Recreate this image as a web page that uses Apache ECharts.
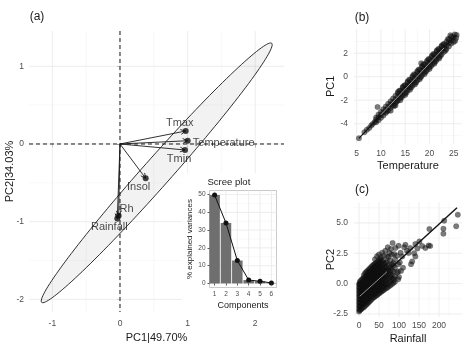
<!DOCTYPE html>
<html><head><meta charset="utf-8">
<script src="https://cdn.jsdelivr.net/npm/echarts@6/dist/echarts.min.js"></script>
<style>html,body{margin:0;padding:0;background:#fff}#c{width:474px;height:355px}</style>
</head><body><div id="c"></div>
<script>
// ---------- data ----------
const pcaVariables = ['Tmax', 'Temperature', 'Tmin', 'Insol', 'Rh', 'Rainfall'];
const pcaPC1 = [0.972, 1.001, 0.962, 0.380, -0.020, -0.040];
const pcaPC2 = [0.167, 0.042, -0.077, -0.442, -0.925, -0.960];
const ellipseCenter = [0.543, -0.371];
const ellipseMajorEnd = [2.244, 1.296];
const ellipseMinorEnd = [0.698, -0.490];
const biplotXTicks = [-1, 0, 1, 2];
const biplotYTicks = [-2, -1, 0, 1];

const screeComponents = [1, 2, 3, 4, 5, 6];
const screeVariance = [49.70, 34.03, 12.9, 1.9, 1.2, 0.27];
const screeYTicks = [0, 10, 20, 30, 40, 50];

const tempPC1Points = [
[5.46,-5.24],[6.6,-4.72],[7.1,-4.52],[7.6,-4.36],[8.0,-4.16],[8.3,-4.02],[8.7,-3.86],[9.3,-2.58],
[9.0,-3.88],[9.0,-3.66],[9.0,-3.48],
[9.5,-3.7],[9.5,-3.44],[9.5,-3.22],
[10.0,-3.5],[10.0,-3.25],[10.0,-3.0],
[10.5,-3.3],[10.5,-3.02],[10.5,-2.76],
[11.0,-3.08],[11.0,-2.8],[11.0,-2.54],[11.2,-2.95],
[11.5,-2.88],[11.5,-2.58],[11.5,-2.3],
[12.0,-2.66],[12.0,-2.37],[12.0,-2.08],[12.0,-2.9],
[12.5,-2.46],[12.5,-2.15],[12.5,-1.86],[12.7,-2.5],
[13.0,-2.26],[13.0,-1.93],[13.0,-1.62],[13.0,-2.45],
[13.5,-2.02],[13.5,-1.71],[13.5,-1.4],[13.5,-1.3],[13.3,-2.1],
[14.0,-1.82],[14.0,-1.49],[14.0,-1.18],[14.0,-2.0],[13.8,-1.2],
[14.5,-1.6],[14.5,-1.27],[14.5,-0.95],[14.5,-0.85],[14.3,-1.75],
[15.0,-1.4],[15.0,-1.05],[15.0,-0.72],[15.0,-1.55],[14.8,-0.75],
[15.5,-1.16],[15.5,-0.83],[15.5,-0.5],[15.5,-0.4],[15.3,-1.35],
[16.0,-0.95],[16.0,-0.61],[16.0,-0.28],[16.0,-1.1],[15.8,-0.25],
[16.5,-0.72],[16.5,-0.39],[16.5,-0.06],[16.5,0.05],[16.3,-0.9],
[17.0,-0.52],[17.0,-0.18],[17.0,0.15],[17.0,-0.66],[16.8,0.2],
[17.5,-0.3],[17.5,0.04],[17.5,0.38],[17.5,0.48],[17.3,-0.48],
[18.0,-0.08],[18.0,0.26],[18.0,0.6],[18.0,-0.22],[17.8,0.62],
[18.3,1.14],
[18.5,0.14],[18.5,0.48],[18.5,0.82],[18.5,0.92],[18.3,0.0],
[19.0,0.36],[19.0,0.7],[19.0,1.04],[19.0,0.22],[18.8,1.05],
[19.5,0.58],[19.5,0.92],[19.5,1.26],[19.5,1.36],[19.3,0.45],
[20.0,0.8],[20.0,1.14],[20.0,1.48],[20.0,0.66],[19.8,1.5],
[20.5,1.02],[20.5,1.36],[20.5,1.7],[20.5,1.8],[20.3,0.88],
[21.0,1.24],[21.0,1.58],[21.0,1.92],[21.0,1.1],[20.8,1.93],
[21.5,1.46],[21.5,1.8],[21.5,2.14],[21.5,2.22],[21.3,1.32],
[22.0,1.68],[22.0,2.01],[22.0,2.34],[22.0,1.55],[21.8,2.36],
[22.5,1.9],[22.5,2.23],[22.5,2.56],[22.5,2.64],[22.3,1.78],
[23.0,2.12],[23.0,2.45],[23.0,2.78],[22.8,2.75],
[23.5,2.35],[23.5,2.67],[23.5,2.98],[23.3,2.22],
[24.0,2.58],[24.0,2.89],[24.0,3.18],[23.8,3.2],
[24.5,2.82],[24.5,3.11],[24.5,3.42],
[24.9,3.35],[25.2,3.6],[25.5,3.3],[25.0,2.95],[25.3,3.05],[24.3,3.52],[25.6,3.55]
];
const tempFitLine = [[5.46, -5.24], [25.5, 3.55]];
const tempFitInner = [[10.0, -3.24], [23.0, 2.45]];
const tempXTicks = [5, 10, 15, 20, 25];
const pc1YTicks = [-4, -2, 0, 2];

const rainPC2Points = [
[0,-2.3],[0,-2.05],[0,-1.8],[0,-1.55],[0,-1.3],[0,-1.05],[0,-0.8],[0,-0.55],[0,-0.3],[0,-0.05],
[2,-2.2],[2,-1.9],[2,-1.6],[2,-1.3],[2,-1.0],[2,-0.7],[2,-0.4],[2,-0.1],[2,0.1],
[3,-2.15],[3,-1.85],[3,-1.55],[3,-1.25],[3,-0.95],[3,-0.65],[3,-0.35],[3,-0.05],[3,0.2],
[6,-2.1],[6,-1.8],[6,-1.5],[6,-1.2],[6,-0.9],[6,-0.6],[6,-0.3],[6,0.0],[6,0.3],
[9,-2.0],[9,-1.7],[9,-1.4],[9,-1.1],[9,-0.8],[9,-0.5],[9,-0.2],[9,0.1],[9,0.4],
[12,-1.95],[12,-1.65],[12,-1.35],[12,-1.05],[12,-0.75],[12,-0.45],[12,-0.15],[12,0.15],[12,0.45],[12,0.7],
[15,-1.85],[15,-1.55],[15,-1.25],[15,-0.95],[15,-0.65],[15,-0.35],[15,-0.05],[15,0.25],[15,0.55],[15,0.85],
[18,-1.75],[18,-1.45],[18,-1.15],[18,-0.85],[18,-0.55],[18,-0.25],[18,0.05],[18,0.35],[18,0.65],[18,0.95],
[21,-1.65],[21,-1.35],[21,-1.05],[21,-0.75],[21,-0.45],[21,-0.15],[21,0.15],[21,0.45],[21,0.75],[21,1.05],
[24,-1.55],[24,-1.25],[24,-0.95],[24,-0.65],[24,-0.35],[24,-0.05],[24,0.25],[24,0.55],[24,0.85],[24,1.15],
[27,-1.45],[27,-1.15],[27,-0.85],[27,-0.55],[27,-0.25],[27,0.05],[27,0.35],[27,0.65],[27,0.95],[27,1.25],
[30,-1.35],[30,-1.05],[30,-0.75],[30,-0.45],[30,-0.15],[30,0.15],[30,0.45],[30,0.75],[30,1.05],[30,1.35],
[33,-1.25],[33,-0.95],[33,-0.65],[33,-0.35],[33,-0.05],[33,0.25],[33,0.55],[33,0.85],[33,1.15],[33,1.45],
[36,-1.15],[36,-0.85],[36,-0.55],[36,-0.25],[36,0.05],[36,0.35],[36,0.65],[36,0.95],[36,1.25],[36,1.55],
[39,-1.1],[39,-0.8],[39,-0.5],[39,-0.2],[39,0.1],[39,0.4],[39,0.7],[39,1.0],[39,1.3],[39,1.6],
[42,-1.0],[42,-0.7],[42,-0.4],[42,-0.1],[42,0.2],[42,0.5],[42,0.8],[42,1.1],[42,1.4],[42,1.7],
[45,-0.95],[45,-0.65],[45,-0.35],[45,-0.05],[45,0.25],[45,0.55],[45,0.85],[45,1.15],[45,1.45],[45,1.75],
[48,-0.85],[48,-0.55],[48,-0.25],[48,0.05],[48,0.35],[48,0.65],[48,0.95],[48,1.25],[48,1.55],[48,1.85],
[51,-0.8],[51,-0.5],[51,-0.2],[51,0.1],[51,0.4],[51,0.7],[51,1.0],[51,1.3],[51,1.6],[51,1.95],
[54,-0.7],[54,-0.4],[54,-0.1],[54,0.2],[54,0.5],[54,0.8],[54,1.1],[54,1.4],[54,1.7],[54,2.0],
[57,-0.65],[57,-0.35],[57,-0.05],[57,0.25],[57,0.55],[57,0.85],[57,1.15],[57,1.45],[57,1.8],
[60,-0.55],[60,-0.25],[60,0.05],[60,0.35],[60,0.65],[60,0.95],[60,1.25],[60,1.55],[60,1.9],
[63,-0.5],[63,-0.2],[63,0.1],[63,0.4],[63,0.7],[63,1.0],[63,1.3],[63,1.65],
[67,-0.4],[67,-0.1],[67,0.2],[67,0.5],[67,0.8],[67,1.1],[67,1.4],[67,1.75],
[70,-0.35],[70,-0.05],[70,0.3],[70,0.65],[70,1.0],[70,1.35],[70,1.8],
[74,-0.25],[74,0.05],[74,0.4],[74,0.75],[74,1.1],[74,1.5],[74,2.2],
[78,-0.15],[78,0.2],[78,0.55],[78,0.95],[78,1.35],[78,1.9],
[82,-0.05],[82,0.3],[82,0.7],[82,1.1],[82,1.6],[82,2.4],
[86,0.05],[86,0.45],[86,1.0],[86,1.7],
[90,0.15],[90,0.6],[90,1.3],[90,2.0],
[98,0.35],[98,1.0],[98,1.6],
[40,2.0],[45,2.25],[50,2.4],[55,2.15],[58,2.55],[62,2.3],[66,2.7],[70,2.24],[72,3.0],[76,2.55],
[80,2.85],[84,3.35],[88,2.45],[91,2.93],[95,2.3],[99,3.12],[102,1.75],[104,2.55],[108,2.24],[110,1.3],
[113,3.0],[116,3.2],[120,2.7],[124,2.52],[128,2.93],[130,1.6],[133,1.83],[138,2.5],[141,3.26],[141,2.24],
[146,2.9],[151,3.48],[158,3.1],[166,2.93],[174,3.15],[178,3.1],[176,4.5],[211,4.53],[211,4.11],[213,5.19],
[243,4.72],[247,5.68],[87,0.32],[78,0.73],[95,0.9],[105,1.05],[86,1.5],[100,0.55]
];
const rainFitLine = [[0, -1.1], [245, 6.25]];
const rainFitInner = [[2, -1.04], [70, 0.98]];
const rainXTicks = [0, 50, 100, 150, 200];
const pc2YTicks = [-2.5, 0, 2.5, 5];

// ---------- styling / layout ----------
const FONT = 'Liberation Sans, Arial, Helvetica, sans-serif';
const labelOffsets = {
  Tmax: [-6, -8], Temperature: [36, 2], Tmin: [-6, 9],
  Insol: [-7, 9], Rh: [8, -7], Rainfall: [-8, 8]
};

function axis(o) {
  return {
    type: 'value', gridIndex: o.grid, min: o.min, max: o.max,
    axisLine: { show: false },
    splitLine: { show: false },
    axisTick: { show: !!o.tick, customValues: o.ticks, length: o.tickLen || 3,
      lineStyle: { color: '#333', width: 0.8 } },
    axisLabel: { customValues: o.ticks, color: '#4d4d4d', fontSize: o.fs, margin: o.margin,
      fontFamily: FONT, formatter: o.fmt },
    name: o.name, nameLocation: 'middle', nameGap: o.nameGap, nameMoveOverlap: false,
    nameTextStyle: { color: '#1a1a1a', fontSize: o.nameFs, fontFamily: FONT },
    z: o.z || 0
  };
}
function half(t) { const r = []; for (let i = 0; i < t.length - 1; i++) r.push((t[i] + t[i + 1]) / 2); return r; }
function gridLines(idx, xMaj, xMin, yMaj, yMin, z) {
  return {
    type: 'custom', xAxisIndex: idx, yAxisIndex: idx, silent: true, z: z, data: [[0, 0]],
    renderItem: function (params, api) {
      const cs = params.coordSys, ch = [];
      function v(val, c, w) { const x = api.coord([val, 0])[0]; if (x < cs.x - 0.5 || x > cs.x + cs.width + 0.5) return;
        ch.push({ type: 'line', shape: { x1: x, y1: cs.y, x2: x, y2: cs.y + cs.height }, style: { stroke: c, lineWidth: w } }); }
      function h(val, c, w) { const y = api.coord([0, val])[1]; if (y < cs.y - 0.5 || y > cs.y + cs.height + 0.5) return;
        ch.push({ type: 'line', shape: { x1: cs.x, y1: y, x2: cs.x + cs.width, y2: y }, style: { stroke: c, lineWidth: w } }); }
      xMin.forEach(a => v(a, '#f4f4f4', 0.6)); yMin.forEach(a => h(a, '#f4f4f4', 0.6));
      xMaj.forEach(a => v(a, '#ebebeb', 0.9)); yMaj.forEach(a => h(a, '#ebebeb', 0.9));
      return { type: 'group', children: ch };
    }
  };
}

const chart = echarts.init(document.getElementById('c'), null, { renderer: 'canvas' });
const pointStyle = { color: 'rgba(20,20,20,0.7)', borderColor: 'rgba(0,0,0,0.35)', borderWidth: 0.5 };
const option = {
  animation: false,
  backgroundColor: '#fff',
  textStyle: { fontFamily: FONT },
  grid: [
    { left: 29, top: 31, width: 255, height: 281, outerBoundsMode: 'none' },
    { left: 354, top: 29.1, width: 108, height: 114.6, outerBoundsMode: 'none' },
    { left: 354, top: 202.3, width: 108, height: 114.7, outerBoundsMode: 'none' },
    { left: 209.5, top: 190.5, width: 67, height: 97, outerBoundsMode: 'none', show: true,
      backgroundColor: '#fff', borderColor: '#bdbdbd', borderWidth: 0.8, z: 7 }
  ],
  xAxis: [
    axis({ grid: 0, min: -1.346, max: 2.426, ticks: biplotXTicks, tick: true, tickLen: 3.5, fs: 8.5, margin: 7,
      name: 'PC1|49.70%', nameGap: 20, nameFs: 11 }),
    axis({ grid: 1, min: 4.45, max: 26.7, ticks: tempXTicks, fs: 8.5, margin: 5,
      name: 'Temperature', nameGap: 16.5, nameFs: 11 }),
    axis({ grid: 2, min: -12.5, max: 257.5, ticks: rainXTicks, fs: 8.5, margin: 4.5,
      name: 'Rainfall', nameGap: 16, nameFs: 11 }),
    axis({ grid: 3, min: 0.55, max: 6.45, ticks: screeComponents, tick: true, tickLen: 2, fs: 6.5, margin: 3.5,
      name: 'Components', nameGap: 14, nameFs: 9, z: 11 })
  ],
  yAxis: [
    axis({ grid: 0, min: -2.162, max: 1.454, ticks: biplotYTicks, tick: true, tickLen: 3, fs: 8.5, margin: 5,
      name: 'PC2|34.03%', nameGap: 13.5, nameFs: 11 }),
    axis({ grid: 1, min: -5.7, max: 4.05, ticks: pc1YTicks, fs: 8.5, margin: 6,
      name: 'PC1', nameGap: 17.5, nameFs: 11 }),
    axis({ grid: 2, min: -2.75, max: 6.7, ticks: pc2YTicks, fs: 8.5, margin: 6,
      name: 'PC2', nameGap: 17.5, nameFs: 11, fmt: v => Number(v).toFixed(1) }),
    axis({ grid: 3, min: -2.3, max: 52.3, ticks: screeYTicks, tick: true, tickLen: 2, fs: 6.5, margin: 4,
      name: '% explained variances', nameGap: 15.5, nameFs: 8, z: 11 })
  ],
  graphic: [
    { type: 'rect', z: 6, silent: true, shape: { x: 182, y: 173, width: 102, height: 139 }, style: { fill: '#fff' } },
    { type: 'text', z: 12, x: 37, y: 17, style: { text: '(a)', fontSize: 12, fontFamily: FONT, fill: '#1a1a1a', align: 'center', verticalAlign: 'middle' } },
    { type: 'text', z: 12, x: 362, y: 18, style: { text: '(b)', fontSize: 12, fontFamily: FONT, fill: '#1a1a1a', align: 'center', verticalAlign: 'middle' } },
    { type: 'text', z: 12, x: 362, y: 190, style: { text: '(c)', fontSize: 12, fontFamily: FONT, fill: '#1a1a1a', align: 'center', verticalAlign: 'middle' } },
    { type: 'text', z: 12, x: 207.5, y: 182.5, style: { text: 'Scree plot', fontSize: 9.5, fontFamily: FONT, fill: '#1a1a1a', align: 'left', verticalAlign: 'middle' } }
  ],
  series: [
    gridLines(0, biplotXTicks, [-0.5, 0.5, 1.5], biplotYTicks, [-1.5, -0.5, 0.5], 1),
    gridLines(1, tempXTicks, [7.5, 12.5, 17.5, 22.5], pc1YTicks, [-5, -3, -1, 1, 3], 1),
    gridLines(2, rainXTicks, [25, 75, 125, 175, 225], pc2YTicks, [-1.25, 1.25, 3.75, 6.25], 1),
    gridLines(3, screeComponents, [], screeYTicks, half(screeYTicks), 8),
    { // confidence ellipse
      type: 'custom', xAxisIndex: 0, yAxisIndex: 0, z: 2, silent: true, data: [[0, 0]],
      renderItem: function (params, api) {
        const c = api.coord(ellipseCenter), a = api.coord(ellipseMajorEnd), b = api.coord(ellipseMinorEnd);
        const pts = [];
        for (let i = 0; i < 144; i++) {
          const t = i / 144 * 2 * Math.PI, ct = Math.cos(t), st = Math.sin(t);
          pts.push([c[0] + ct * (a[0] - c[0]) + st * (b[0] - c[0]), c[1] + ct * (a[1] - c[1]) + st * (b[1] - c[1])]);
        }
        return { type: 'polygon', shape: { points: pts }, style: { fill: 'rgba(0,0,0,0.05)', stroke: '#1a1a1a', lineWidth: 0.9 } };
      }
    },
    { // dashed zero lines
      type: 'custom', xAxisIndex: 0, yAxisIndex: 0, z: 3, silent: true, data: [[0, 0]],
      renderItem: function (params, api) {
        const cs = params.coordSys, o = api.coord([0, 0]);
        const st = { stroke: '#1a1a1a', lineWidth: 1, lineDash: [4, 3] };
        return { type: 'group', children: [
          { type: 'line', shape: { x1: o[0], y1: cs.y, x2: o[0], y2: cs.y + cs.height }, style: st },
          { type: 'line', shape: { x1: cs.x, y1: o[1], x2: cs.x + cs.width, y2: o[1] }, style: st }
        ] };
      }
    },
    { // variable arrows
      type: 'custom', xAxisIndex: 0, yAxisIndex: 0, z: 4, silent: true,
      data: pcaVariables.map((n, i) => [pcaPC1[i], pcaPC2[i]]),
      renderItem: function (params, api) {
        const o = api.coord([0, 0]), p = api.coord([api.value(0), api.value(1)]);
        const dx = p[0] - o[0], dy = p[1] - o[1], L = Math.hypot(dx, dy), ux = dx / L, uy = dy / L;
        const hl = 5.5, an = 0.45, ca = Math.cos(an), sa = Math.sin(an);
        const l = [p[0] - hl * (ux * ca - uy * sa), p[1] - hl * (uy * ca + ux * sa)];
        const r = [p[0] - hl * (ux * ca + uy * sa), p[1] - hl * (uy * ca - ux * sa)];
        const st = { stroke: '#1a1a1a', lineWidth: 0.9, fill: null };
        return { type: 'group', children: [
          { type: 'line', shape: { x1: o[0], y1: o[1], x2: p[0], y2: p[1] }, style: st },
          { type: 'polyline', shape: { points: [l, p, r] }, style: st }
        ] };
      }
    },
    { // variable points with labels
      type: 'scatter', xAxisIndex: 0, yAxisIndex: 0, z: 5, symbolSize: 6, silent: true,
      itemStyle: { color: '#111' },
      label: { show: true, position: 'inside', formatter: '{b}', color: '#1a1a1a', fontSize: 11, fontFamily: FONT },
      data: pcaVariables.map((n, i) => ({ name: n, value: [pcaPC1[i], pcaPC2[i]], label: { offset: labelOffsets[n] } }))
    },
    { // scree bars
      type: 'bar', xAxisIndex: 3, yAxisIndex: 3, z: 9, barWidth: 10.5, silent: true,
      itemStyle: { color: '#6f6f6f' },
      data: screeComponents.map((c, i) => [c, screeVariance[i]])
    },
    { // scree line
      type: 'line', xAxisIndex: 3, yAxisIndex: 3, z: 10, silent: true,
      symbol: 'circle', symbolSize: 5, lineStyle: { color: '#111', width: 1 }, itemStyle: { color: '#111' },
      data: screeComponents.map((c, i) => [c, screeVariance[i]])
    },
    { // panel b points
      type: 'scatter', xAxisIndex: 1, yAxisIndex: 1, z: 3, symbolSize: 5.5, silent: true,
      itemStyle: pointStyle, data: tempPC1Points
    },
    { type: 'line', xAxisIndex: 1, yAxisIndex: 1, z: 4, symbol: 'none', silent: true,
      lineStyle: { color: '#111', width: 1.2 }, data: tempFitLine },
    { type: 'line', xAxisIndex: 1, yAxisIndex: 1, z: 5, symbol: 'none', silent: true,
      lineStyle: { color: '#9a9a9a', width: 1 }, data: tempFitInner },
    { // panel c points
      type: 'scatter', xAxisIndex: 2, yAxisIndex: 2, z: 3, symbolSize: 5.5, silent: true,
      itemStyle: pointStyle, data: rainPC2Points
    },
    { type: 'line', xAxisIndex: 2, yAxisIndex: 2, z: 4, symbol: 'none', silent: true,
      lineStyle: { color: '#111', width: 1.4 }, data: rainFitLine },
    { type: 'line', xAxisIndex: 2, yAxisIndex: 2, z: 5, symbol: 'none', silent: true,
      lineStyle: { color: '#8f8f8f', width: 1 }, data: rainFitInner }
  ]
};
chart.setOption(option);
</script></body></html>
